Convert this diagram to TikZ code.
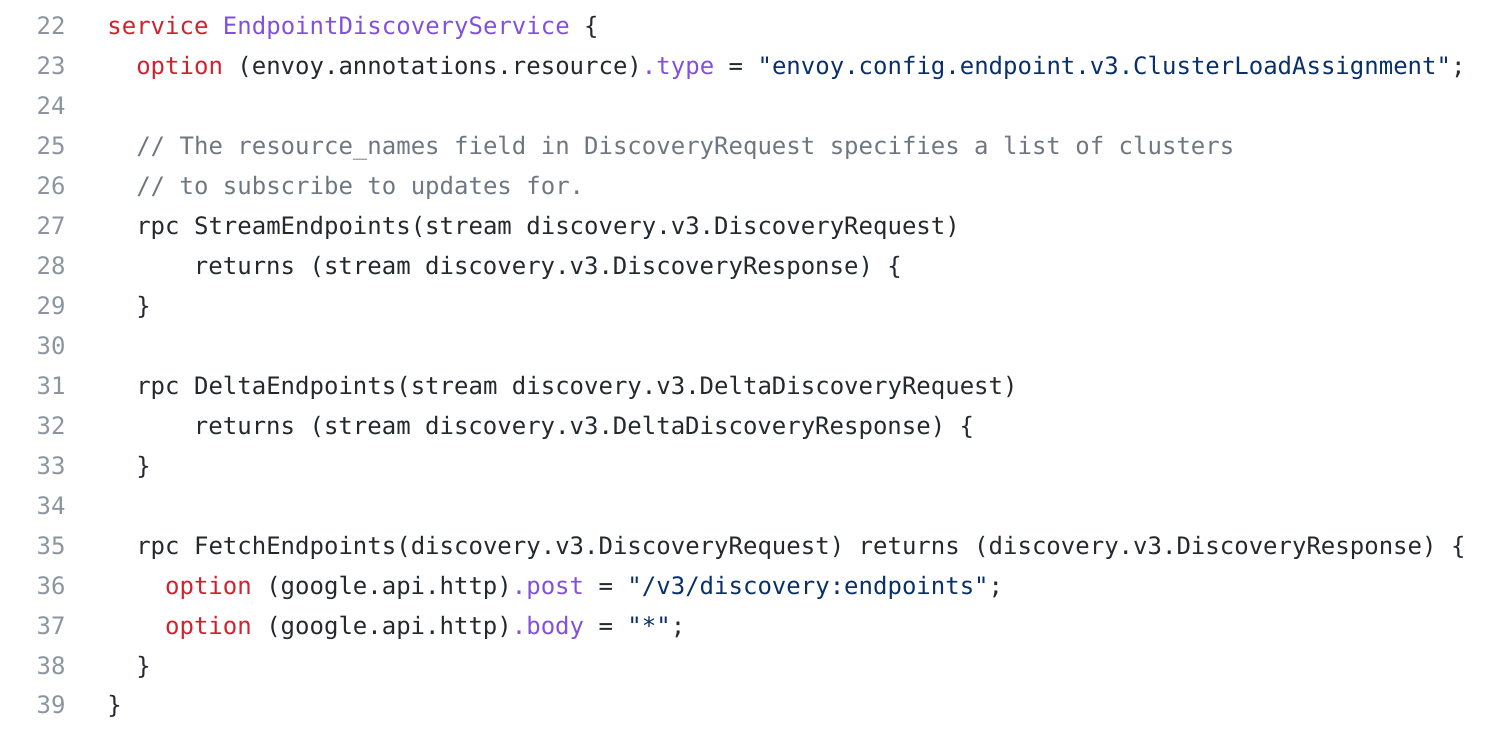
\documentclass[tikz,border=0pt]{standalone}
\usepackage{fontspec}
\setmonofont{DejaVu Sans Mono}
\definecolor{kw}{HTML}{CF222E}
\definecolor{ent}{HTML}{8250DF}
\definecolor{str}{HTML}{0A3069}
\definecolor{cmt}{HTML}{6E7781}
\definecolor{txt}{HTML}{24292F}
\definecolor{lnum}{HTML}{8C959F}
\newcommand{\K}[1]{\textcolor{kw}{#1}}
\newcommand{\E}[1]{\textcolor{ent}{#1}}
\newcommand{\Sq}[1]{\textcolor{str}{#1}}
\newcommand{\Cm}[1]{\textcolor{cmt}{#1}}
\tikzset{code/.style={anchor=base west,inner sep=0pt,font=\ttfamily\fontsize{12}{12}\selectfont,text=txt},
lno/.style={anchor=base east,inner sep=0pt,font=\ttfamily\fontsize{12}{12}\selectfont,text=lnum}}
\newcommand{\cl}[4]{\node[lno] (n#1) at (66,{35+39.94*#2}) {#1};
\node[code] (c#1) at ({107+14.43*#3},{35+39.94*#2}) {#4};}
\begin{document}
\begin{tikzpicture}[x=0.5pt,y=-0.5pt]
\useasboundingbox (0,0) rectangle (1506,732);
\cl{22}{0}{0}{\K{service} \E{EndpointDiscoveryService} \{}
\cl{23}{1}{2}{\K{option} (envoy.annotations.resource)\E{.type} = \Sq{"envoy.config.endpoint.v3.ClusterLoadAssignment"};}
\cl{24}{2}{0}{}
\cl{25}{3}{2}{\Cm{// The resource\_names field in DiscoveryRequest specifies a list of clusters}}
\cl{26}{4}{2}{\Cm{// to subscribe to updates for.}}
\cl{27}{5}{2}{rpc StreamEndpoints(stream discovery.v3.DiscoveryRequest)}
\cl{28}{6}{6}{returns (stream discovery.v3.DiscoveryResponse) \{}
\cl{29}{7}{2}{\}}
\cl{30}{8}{0}{}
\cl{31}{9}{2}{rpc DeltaEndpoints(stream discovery.v3.DeltaDiscoveryRequest)}
\cl{32}{10}{6}{returns (stream discovery.v3.DeltaDiscoveryResponse) \{}
\cl{33}{11}{2}{\}}
\cl{34}{12}{0}{}
\cl{35}{13}{2}{rpc FetchEndpoints(discovery.v3.DiscoveryRequest) returns (discovery.v3.DiscoveryResponse) \{}
\cl{36}{14}{4}{\K{option} (google.api.http)\E{.post} = \Sq{"/v3/discovery:endpoints"};}
\cl{37}{15}{4}{\K{option} (google.api.http)\E{.body} = \Sq{"*"};}
\cl{38}{16}{2}{\}}
\cl{39}{17}{0}{\}}
\end{tikzpicture}
\end{document}
